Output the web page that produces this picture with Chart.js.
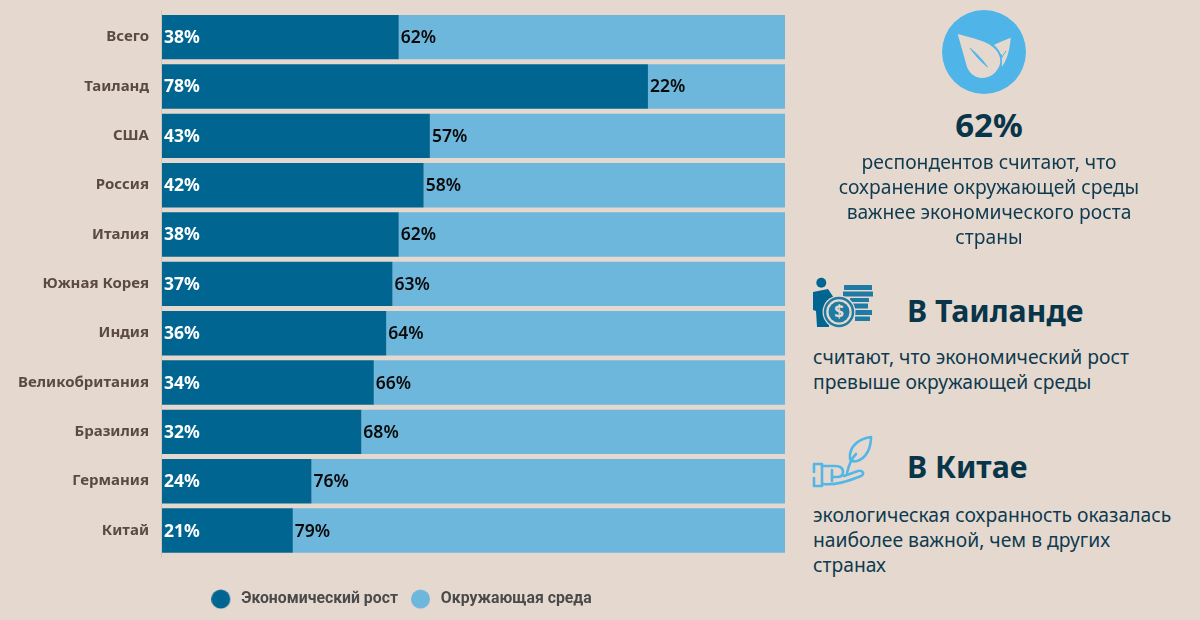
<!DOCTYPE html>
<html lang="ru">
<head>
<meta charset="utf-8">
<script src="https://cdn.jsdelivr.net/npm/chart.js@4"></script>
<style>
  html, body { margin: 0; padding: 0; background: #e5d9cf; }
  body { width: 1200px; height: 620px; position: relative; overflow: hidden; font-family: "Noto Sans", sans-serif; color: #0f3a4f; }
  #wrap { position: absolute; left: 0; top: 0; width: 800px; height: 620px; }
  .t { position: absolute; white-space: nowrap; }
  .body { font-size: 19.3px; line-height: 25.2px; }
  .head { font-size: 30.3px; font-weight: 700; line-height: 36px; color: #083549; left: 907px; }
  svg { position: absolute; }
</style>
</head>
<body>
<div id="wrap"><canvas id="chart" width="800" height="620"></canvas></div>

<svg style="left:942px;top:10px" width="84" height="84" viewBox="0 0 84 84">
  <circle cx="42" cy="42" r="42" fill="#4fb5e8"/>
  <path d="M15.7 24 C30 28 47 31 54 40 C58 45 59 50 58 54 C55 63 48 68 40 68 C32 68 27 62 25 57 Z" fill="#e5d9cf"/>
  <path d="M28 38 C33 45 38 51 45.5 57 C41 50 35 44 28 38 Z" fill="#4fb5e8" stroke="#4fb5e8" stroke-width="0.8"/>
  <path d="M52 35 C57 32 63 30 68.7 27.7 C68 37 66 49 59.7 56.7 C61 48 59 41 52 35 Z" fill="#e5d9cf"/>
  <path d="M59 44 L60 48 M60 47 L64 41" stroke="#4fb5e8" stroke-width="1" fill="none"/>
</svg>

<svg style="left:812px;top:277px" width="62" height="52" viewBox="0 0 62 52">
  <circle cx="9.3" cy="5.7" r="5" fill="#006691"/>
  <path d="M1 15 L16 12 L24 24 L18 30 L17 50 L5 50 L4 34 L1 33 Z" fill="#006691"/>
  <g fill="#1f7ba3">
    <rect x="32" y="8" width="28" height="5" rx="0.5"/>
    <rect x="31" y="14.5" width="30" height="5" rx="0.5"/>
    <rect x="38" y="21" width="19" height="4" rx="0.5"/>
    <rect x="41" y="26.5" width="15" height="5" rx="0.5"/>
    <rect x="43" y="33" width="17" height="5" rx="0.5"/>
    <rect x="43" y="39.5" width="15" height="4.5" rx="0.5"/>
  </g>
  <circle cx="27" cy="35" r="16.5" fill="#e5d9cf"/>
  <circle cx="27" cy="35" r="14" fill="none" stroke="#1f7ba3" stroke-width="2.5"/>
  <circle cx="27" cy="35" r="10.5" fill="#1f7ba3"/>
  <text x="27" y="41" text-anchor="middle" font-size="17" font-weight="700" fill="#e5d9cf" font-family="Noto Sans">$</text>
</svg>

<svg style="left:811px;top:434px" width="62" height="56" viewBox="0 0 62 56" fill="none" stroke="#54b6e6" stroke-width="2.6" stroke-linejoin="round" stroke-linecap="round">
  <path d="M11 30 H3 V38 M3 44 V52 H11"/>
  <path d="M11 31 V51"/>
  <path d="M11 32 H24 C29 32 32 34 32 38 C32 41 30 43 26 43 H21"/>
  <path d="M21 36 V47"/>
  <path d="M12 50 C25 51 35 48 50 42 C54 40 52 36 47 37 L33 42"/>
  <path d="M39 24 C38 14 46 5 60 3 C60 13 56 24 46 27 C42 28 39 27 39 24 Z"/>
  <path d="M36 39 C38 30 41 24 45 20"/>
</svg>

<div class="t" style="left:889px;width:200px;text-align:center;top:103px;font-size:33px;line-height:44px;font-weight:700;color:#083549">62%</div>
<div class="t body" style="left:789px;width:400px;text-align:center;top:148.5px">респондентов считают, что<br>сохранение окружающей среды<br>важнее экономического роста<br>страны</div>

<div class="t head" style="top:293px">В Таиланде</div>
<div class="t body" style="left:813px;top:343.5px">считают, что экономический рост<br>превыше окружающей среды</div>

<div class="t head" style="top:449px">В Китае</div>
<div class="t body" style="left:813px;top:501.5px">экологическая сохранность оказалась<br>наиболее важной, чем в других<br>странах</div>

<script>
const categories = ['Всего', 'Таиланд', 'США', 'Россия', 'Италия', 'Южная Корея', 'Индия', 'Великобритания', 'Бразилия', 'Германия', 'Китай'];
const economy = [38, 78, 43, 42, 38, 37, 36, 34, 32, 24, 21];
const environment = [62, 22, 57, 58, 62, 63, 64, 66, 68, 76, 79];
const seriesNames = ['Экономический рост', 'Окружающая среда'];

const darkBlue = '#006691';
const lightBlue = '#6db6dc';

// legend dot with blank room on its right, the legend has no dot/text gap option
function legendDot(color) {
  const c = document.createElement('canvas');
  c.width = 22;
  c.height = 20;
  const g = c.getContext('2d');
  g.fillStyle = color;
  g.beginPath();
  g.arc(9.5, 10, 9.5, 0, Math.PI * 2);
  g.fill();
  return c;
}

// percent labels sit just inside the left edge of each bar
const barLabels = {
  id: 'barLabels',
  afterDatasetsDraw(chart) {
    const ctx = chart.ctx;
    ctx.save();
    ctx.textAlign = 'left';
    ctx.textBaseline = 'middle';
    chart.data.datasets.forEach((ds, i) => {
      ctx.font = (i === 0 ? '700' : '600') + ' 17.5px "Noto Sans"';
      ctx.fillStyle = i === 0 ? '#ffffff' : '#0a0a0a';
      chart.getDatasetMeta(i).data.forEach((bar, j) => {
        ctx.fillText(ds.data[j] + '%', bar.base + 2, bar.y + 1);
      });
    });
    ctx.restore();
  }
};

// axis line runs a little past the plot at both ends
const axisLine = {
  id: 'axisLine',
  afterDraw(chart) {
    const ctx = chart.ctx;
    const a = chart.chartArea;
    ctx.save();
    ctx.strokeStyle = '#cfc5bb';
    ctx.lineWidth = 1;
    ctx.beginPath();
    ctx.moveTo(a.left - 0.5, a.top - 2.5);
    ctx.lineTo(a.left - 0.5, a.bottom + 2.5);
    ctx.stroke();
    ctx.restore();
  }
};

// legend sits well below the plot, further than its own padding allows
const legendDrop = {
  id: 'legendDrop',
  afterLayout(chart) {
    const legend = chart.legend;
    legend.top += 23;
    legend.bottom += 23;
    legend.left += 9;
    legend.right += 9;
  }
};

new Chart(document.getElementById('chart'), {
  type: 'bar',
  data: {
    labels: categories,
    datasets: [
      { label: seriesNames[0], data: economy, backgroundColor: darkBlue },
      { label: seriesNames[1], data: environment, backgroundColor: lightBlue }
    ]
  },
  options: {
    indexAxis: 'y',
    responsive: false,
    animation: false,
    devicePixelRatio: 1,
    layout: { padding: { top: 12.5, right: 15, bottom: 26, left: 0 } },
    categoryPercentage: 1,
    barPercentage: 0.9,
    scales: {
      x: { stacked: true, min: 0, max: 100, display: false },
      y: {
        stacked: true,
        grid: { display: false },
        border: { display: false },
        afterFit(scale) {
          scale.width = 162;
          scale.paddingTop = 0;
          scale.paddingBottom = 0;
        },
        ticks: {
          padding: 5,
          color: '#5a4a40',
          font: { family: '"Noto Sans"', size: 15, weight: '700' }
        }
      }
    },
    plugins: {
      tooltip: { enabled: false },
      legend: {
        position: 'bottom',
        labels: {
          usePointStyle: true,
          pointStyleWidth: 22,
          boxHeight: 14,
          color: '#4a4a4a',
          padding: 13,
          font: { family: 'Roboto', size: 15.8, weight: '700' },
          generateLabels(chart) {
            return chart.data.datasets.map((ds, i) => ({
              text: ds.label,
              datasetIndex: i,
              fontColor: '#4a4a4a',
              pointStyle: legendDot(ds.backgroundColor)
            }));
          }
        }
      }
    }
  },
  plugins: [barLabels, axisLine, legendDrop]
});
</script>
</body>
</html>
